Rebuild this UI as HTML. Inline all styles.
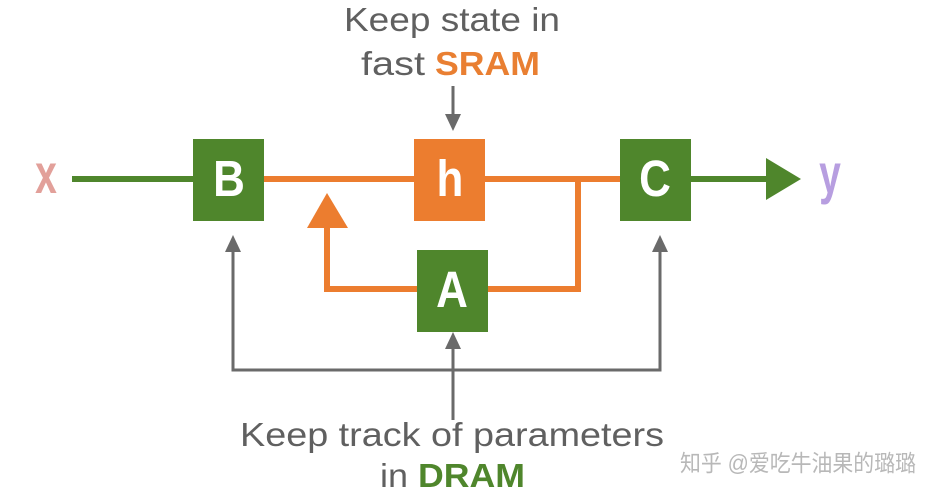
<!DOCTYPE html>
<html><head><meta charset="utf-8"><style>html,body{margin:0;padding:0;background:#fff;width:941px;height:500px;overflow:hidden}</style></head>
<body>
<svg width="941" height="500" viewBox="0 0 941 500" xmlns="http://www.w3.org/2000/svg" font-family="Liberation Sans, sans-serif">
<g fill="#606060" font-size="33">
<text x="344" y="31" textLength="216" lengthAdjust="spacingAndGlyphs">Keep state in</text>
<text x="361" y="75" textLength="64" lengthAdjust="spacingAndGlyphs">fast</text>
<text x="435" y="75" fill="#e97f32" font-weight="bold" textLength="105" lengthAdjust="spacingAndGlyphs">SRAM</text>
<text x="240" y="446" textLength="424" lengthAdjust="spacingAndGlyphs">Keep track of parameters</text>
<text x="380" y="487" textLength="28" lengthAdjust="spacingAndGlyphs">in</text>
<text x="418" y="487" fill="#4f862c" font-weight="bold" textLength="107" lengthAdjust="spacingAndGlyphs">DRAM</text>
</g>
<text x="680" y="471" font-size="23" fill="#b8b8b8" font-family="Liberation Sans, Noto Sans CJK SC, sans-serif" textLength="236" lengthAdjust="spacingAndGlyphs">知乎 @爱吃牛油果的璐璐</text>
<g stroke="#6a6a6a" stroke-width="3" fill="none">
<line x1="453" y1="86" x2="453" y2="116"/>
<polyline points="233,248 233,370 660,370 660,248"/>
<line x1="453" y1="420" x2="453" y2="346"/>
</g>
<g fill="#6a6a6a">
<polygon points="445,114 461,114 453,131"/>
<polygon points="225,252 241,252 233,235"/>
<polygon points="652,252 668,252 660,235"/>
<polygon points="445,349 461,349 453,332"/>
</g>
<line x1="72" y1="179" x2="195" y2="179" stroke="#4f862c" stroke-width="6"/>
<line x1="688" y1="179" x2="770" y2="179" stroke="#4f862c" stroke-width="6"/>
<polygon points="766,158 766,200 801,179" fill="#4f862c"/>
<g stroke="#ec7d2f" stroke-width="6" fill="none">
<line x1="262" y1="179" x2="622" y2="179"/>
<polyline points="578,179 578,289 327,289 327,224"/>
</g>
<polygon points="307,228 348,228 327,193" fill="#ec7d2f"/>
<rect x="193" y="139" width="71" height="82" fill="#4f862c"/>
<rect x="414" y="139" width="71" height="82" fill="#ec7d2f"/>
<rect x="620" y="139" width="71" height="82" fill="#4f862c"/>
<rect x="417" y="250" width="71" height="82" fill="#4f862c"/>
<g fill="#fff" font-weight="bold" font-size="44" text-anchor="middle">
<text x="229" y="196" transform="translate(229,196) scale(1,1.15) translate(-229,-196)">B</text>
<text x="450" y="196" transform="translate(450,196) scale(1,1.15) translate(-450,-196)">h</text>
<text x="655" y="196" transform="translate(655,196) scale(1,1.15) translate(-655,-196)">C</text>
<text x="452" y="307" transform="translate(452,307) scale(1,1.15) translate(-452,-307)">A</text>
</g>
<text x="46" y="193" font-size="46" font-weight="bold" fill="#e2a09a" text-anchor="middle" transform="translate(46,193) scale(0.85,1.2) translate(-46,-193)">x</text>
<text x="830" y="193" font-size="46" font-weight="bold" fill="#b79ee0" text-anchor="middle" transform="translate(830,193) scale(0.85,1.2) translate(-830,-193)">y</text>
</svg>
</body></html>
